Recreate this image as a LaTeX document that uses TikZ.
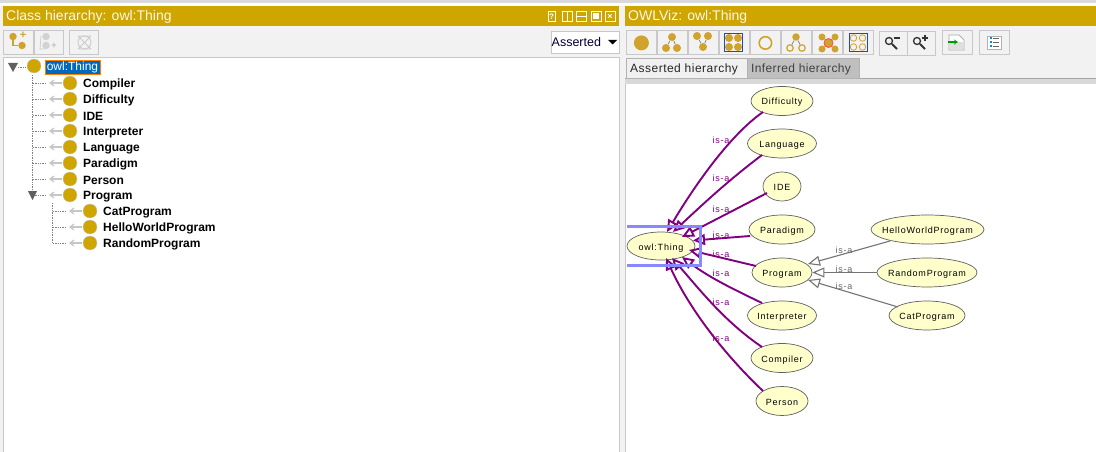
\documentclass[tikz,border=0pt]{standalone}
\usepackage{fontspec}
\setmainfont{Liberation Sans}
\newfontfamily\spaced[LetterSpace=8.5]{Liberation Sans}
\newfontfamily\tabone[LetterSpace=4]{Liberation Sans}
\newfontfamily\tabtwo[LetterSpace=3]{Liberation Sans}
\usetikzlibrary{arrows.meta,calc,shapes.geometric}
\definecolor{gold}{HTML}{CFA500}
\definecolor{ico}{HTML}{D0A32C}
\definecolor{panel}{HTML}{F2F2F2}
\definecolor{edge}{HTML}{C8C8C8}
\definecolor{purp}{HTML}{800080}
\definecolor{yel}{HTML}{FFFFCC}
\definecolor{brack}{HTML}{8888FF}
\definecolor{selblue}{HTML}{1F45D8}
\newcommand{\ov}[1]{\makebox[0pt]{#1}}
\tikzset{
 x=1pt,y=-1pt,
 titletext/.style={anchor=west,inner sep=0pt,text=white!92!gold,font=\fontsize{14}{16}\selectfont},
 treelabel/.style={anchor=west,inner sep=0pt,font=\fontsize{12}{14}\selectfont\bfseries},
 cls/.style={circle,fill=gold,draw=gray!45,line width=.4pt,minimum size=14pt,inner sep=0pt},
 dots/.style={densely dotted,gray,line width=.7pt},
 subarrow/.style={-{Straight Barb[length=4pt,width=6pt]},gray!45,line width=1.2pt},
 twist/.style={fill=gray!75!black,draw=none},
 btn/.style={draw=edge,fill=panel,line width=.8pt,minimum height=24pt,inner sep=0pt,anchor=north west},
 oval/.style={ellipse,draw=gray!75!black,fill=yel,line width=.7pt,font=\fontsize{9}{10}\spaced,inner sep=0pt,text height=8pt,text depth=0pt},
 isa/.style={purp,line width=1.9pt,-{Triangle[open,length=12pt,width=11pt,fill=white]}},
 sub/.style={gray!90!black,line width=1.1pt,-{Triangle[open,length=12pt,width=10pt,fill=white]}},
 isalab/.style={font=\fontsize{9}{10}\spaced,text=purp,inner sep=0pt},
 sublab/.style={font=\fontsize{9}{10}\spaced,text=gray!80!black,inner sep=0pt},
 dot/.style={circle,fill=ico,inner sep=0pt},
 ring/.style={circle,draw=ico,line width=1.2pt,inner sep=0pt},
 sel/.style={draw=selblue,line width=.9pt},
 tabbox/.style={anchor=north west,minimum height=20pt,inner sep=0pt},
 tabtext/.style={anchor=west,inner sep=0pt,text height=9pt,text depth=0pt},
}
\begin{document}
\begin{tikzpicture}
\useasboundingbox (0,0) rectangle (1096,452);
\fill[panel] (0,0) rectangle (1096,452);
\fill[gray!30] (0,0) rectangle (1096,3);
\fill[white] (0,3) rectangle (1096,6);
% left panel
\fill[gold] (3,6) rectangle (619,26);
\node[titletext] (lt) at (6,17) {Class hierarchy: owl:Thing};
\fill[white] (3,57) rectangle (619,452);
\draw[edge,line width=.7pt] (3,57) rectangle (619,453);
% window buttons
\node[draw=white,line width=.9pt,minimum width=7pt,minimum height=10pt,inner sep=0pt,text=white,font=\fontsize{8}{8}\selectfont\bfseries] (wina) at (551.5,16.5) {?};
\foreach \n/\x/\s in {b/567.5/,c/581.5/,d/596/,e/610/×}{
  \node[draw=white,line width=.9pt,minimum size=10pt,inner sep=0pt,text=white,font=\fontsize{9}{9}\selectfont\bfseries] (win\n) at (\x,16.5) {\s};
}
\draw[white,line width=1.6pt] (winb.north) -- (winb.south);
\draw[white,line width=1.6pt] (winc.west) -- (winc.east);
\fill[white] (593,13.5) rectangle (599,19.5);
% left toolbar
\node[btn,minimum width=30pt] (l1) at (3,30.5) {};
\node[btn,minimum width=29pt] (l2) at (34,30.5) {};
\node[btn,minimum width=29pt] (l3) at (69,30.5) {};
\node[dot,minimum size=7.5pt] (l1a) at (13,36.5) {};
\node[dot,minimum size=7.5pt] (l1b) at (22,45.5) {};
\draw[ico,line width=1.2pt] (l1a) |- (l1b);
\node[text=ico,font=\fontsize{11}{11}\selectfont\bfseries,inner sep=0pt] (l1p) at (23,35) {+};
\node[dot,fill=gray!35,minimum size=7.5pt] (l2a) at (46,36.5) {};
\node[dot,fill=gray!35,minimum size=7.5pt] (l2b) at (46,45.5) {};
\node[text=gray!50,font=\fontsize{9}{9}\selectfont\bfseries,inner sep=0pt] (l2p) at (54,46) {+};
\draw[gray!40,line width=.7pt] (41,36) -- (40,49) -- (44,49);
\node[circle,draw=gray!40,line width=.9pt,minimum size=13pt,inner sep=0pt] (l3a) at (84.5,42.5) {};
\draw[gray!40,line width=.9pt] (78,36) -- (91,49) (91,36) -- (78,49) (78,36) -- (91,36) (78,49) -- (91,49);
\node[draw=edge,fill=white,line width=.5pt,minimum width=68pt,minimum height=22pt,inner sep=0pt,anchor=north west] (combo) at (550.5,31) {};
\node[anchor=west,inner sep=0pt,font=\fontsize{12.5}{14}\selectfont,text=black!80!blue] (combot) at (551.5,42.5) {Asserted};
\fill[black] (608,40) -- (617,40) -- (612.5,44.5) -- cycle;
% tree
\fill[twist] (8,63) -- (18,63) -- (13,72) -- cycle;
\draw[dots] (18,67) -- (26,67);
\node[cls] (root) at (34,66) {};
\node[draw=orange,fill=blue!45!cyan!75!black,text=white,inner sep=0pt,minimum width=55pt,minimum height=14pt,font=\fontsize{12}{14}\selectfont] (rootlab) at (72.5,67) {owl:Thing};
\draw[dots] (32.5,75) -- (32.5,192);
\foreach \n/\y/\t in {a/83/Compiler,b/99/Difficulty,c/115/IDE,d/131/Interpreter,e/147/Language,f/163/Paradigm,g/179/Person,h/195/Program}{
  \draw[dots] (33,\y) -- (45,\y);
  \node[cls] (t\n) at (70,\y) {};
  \draw[subarrow] (62,\y) -- (49,\y);
  \node[treelabel] (l\n) at (83,\y+1.5) {\t};
}
\fill[twist] (28,191) -- (37,191) -- (32.5,200) -- cycle;
\draw[dots] (52.5,203) -- (52.5,243.5);
\foreach \n/\y/\t in {i/211/CatProgram,j/227/HelloWorldProgram,k/243/RandomProgram}{
  \draw[dots] (53,\y) -- (65,\y);
  \node[cls] (t\n) at (90,\y) {};
  \draw[subarrow] (82,\y) -- (69,\y);
  \node[treelabel] (l\n) at (103,\y+1.5) {\t};
}
% right panel
\fill[gold] (625,6) rectangle (1096,26);
\node[titletext] (rt) at (628,17) {OWLViz: owl:Thing};
\foreach \n/\x in {1/626,2/657,3/688,4/719,5/750,6/781,7/812,8/843}{
  \node[btn,minimum width=30pt] (b\n) at (\x,30.5) {};
}
\node[btn,minimum width=28pt] (z1) at (879,31.5) {};
\node[btn,minimum width=28pt] (z2) at (907,31.5) {};
\node[btn,minimum width=30pt] (ex) at (941.5,30.5) {};
\node[btn,minimum width=30pt] (ls) at (978.5,30.5) {};
% icon 1
\node[dot,minimum size=15pt] (i1) at (b1.center) {};
% icon 2
\node[dot,minimum size=8pt] (i2a) at (672,37) {};
\node[dot,minimum size=8pt] (i2b) at (666,48) {};
\node[dot,minimum size=8pt] (i2c) at (677,48) {};
\draw[gray,line width=.7pt] (i2a) -- (i2b) (i2a) -- (i2c);
% icon 3
\node[dot,minimum size=8pt] (i3a) at (697,36) {};
\node[dot,minimum size=8pt] (i3b) at (708,36) {};
\node[dot,minimum size=8pt] (i3c) at (703,47) {};
\draw[gray,line width=.7pt] (i3a) -- (i3c) (i3b) -- (i3c);
% icon 4
\node[sel,minimum width=18pt,minimum height=18pt,inner sep=0pt] (i4) at (733.5,42.5) {};
\foreach \n/\x/\y in {a/729/38,b/738/38,c/729/47,d/738/47}{\node[dot,minimum size=8pt] (i4\n) at (\x,\y) {};}
% icon 5
\node[ring,line width=1.6pt,minimum size=12.5pt] (i5) at (b5.center) {};
% icon 6
\node[dot,minimum size=7.5pt] (i6a) at (796,37) {};
\node[ring,minimum size=6.5pt] (i6b) at (790,48) {};
\node[ring,minimum size=6.5pt] (i6c) at (802,48) {};
\draw[gray,line width=.7pt] (i6a) -- (i6b) (i6a) -- (i6c);
% icon 7
\foreach \n/\x/\y in {a/822/37,b/835/37,c/822/49,d/835/49}{\node[dot,minimum size=7pt] (i7\n) at (\x,\y) {};}
\draw[ico,line width=1.5pt] (i7a) -- (i7d) (i7b) -- (i7c);
\node[circle,draw=red!70!white,fill=ico,line width=.8pt,minimum size=9pt,inner sep=0pt] (i7e) at (828.5,43) {};
% icon 8
\node[sel,minimum width=18pt,minimum height=18pt,inner sep=0pt] (i8) at (858,42.5) {};
\foreach \n/\x/\y in {a/853.5/38,b/862.5/38,c/853.5/47,d/862.5/47}{\node[ring,line width=.8pt,minimum size=6.5pt] (i8\n) at (\x,\y) {};}
% zoom icons
\node[circle,draw=black!80,line width=1.3pt,minimum size=7pt,inner sep=0pt] (zm1) at (889,41) {};
\draw[black!80,line width=1.8pt] (zm1.south east) -- (897,49);
\draw[black!80,line width=1.2pt] (894,38) -- (900,38);
\node[circle,draw=black!80,line width=1.3pt,minimum size=7pt,inner sep=0pt] (zm2) at (917,41) {};
\draw[black!80,line width=1.8pt] (zm2.south east) -- (925,49);
\draw[black!80,line width=1.2pt] (922,38) -- (928,38) (925,35) -- (925,41);
% export
\draw[gray!70,fill=white,line width=.7pt] (949,35) -- (959,35) -- (964,40) -- (964,50) -- (949,50) -- cycle;
\fill[gray!25] (950,42) rectangle (963,49.5);
\draw[green!60!black,line width=1.2pt,-{Stealth[length=4pt,width=5pt]}] (948,42) -- (958,42);
% list
\node[draw=gray!60,fill=white,line width=.6pt,minimum width=14pt,minimum height=13pt,inner sep=0pt] (lsb) at (ls.center) {};
\foreach \y in {38.5,42.5,46.5}{
  \fill[cyan!70!blue] (989.5,\y-1) rectangle (991.5,\y+1);
  \draw[gray!80!black,line width=.8pt] (993,\y) -- (999,\y);
}
% tabs
\fill[gray!30] (625,78) rectangle (1096,84);
\draw[gray!70,line width=.6pt] (625,78.5) -- (1096,78.5);
\node[tabbox,draw=gray!60,fill=gray!12,minimum width=121pt] (tab1) at (625.5,58.5) {};
\node[tabbox,draw=gray!60,fill=gray!50,minimum width=112pt] (tab2) at (746.5,58.5) {};
\node[tabtext,font=\fontsize{12}{14}\tabone,text=black!85] (tab1t) at (630,68.5) {Asserted hierarchy};
\node[tabtext,font=\fontsize{12}{14}\tabtwo,text=black!75] (tab2t) at (751,68.5) {Inferred hierarchy};
\fill[white] (626,84) rectangle (1096,452);
\draw[edge,line width=.7pt] (625.5,84) -- (625.5,453);
% graph
\node[oval,minimum width=68pt,minimum height=28pt] (thing) at (661,246) {\ov{owl:Thing}};
\node[oval,minimum width=62pt,minimum height=29pt] (dif) at (782,101) {\ov{Difficulty}};
\node[oval,minimum width=69pt,minimum height=29pt] (lan) at (782,143.5) {\ov{Language}};
\node[oval,minimum width=38pt,minimum height=29pt] (ide) at (782,186.5) {\ov{IDE}};
\node[oval,minimum width=66pt,minimum height=29pt] (par) at (782,229.5) {\ov{Paradigm}};
\node[oval,minimum width=60pt,minimum height=29pt] (pro) at (782,272.5) {\ov{Program}};
\node[oval,minimum width=69pt,minimum height=29pt] (int) at (782,315.5) {\ov{Interpreter}};
\node[oval,minimum width=62pt,minimum height=29pt] (com) at (782,358) {\ov{Compiler}};
\node[oval,minimum width=52pt,minimum height=29pt] (per) at (782,401) {\ov{Person}};
\node[oval,minimum width=113pt,minimum height=29pt] (hel) at (927.5,229.5) {\ov{HelloWorldProgram}};
\node[oval,minimum width=100pt,minimum height=29pt] (ran) at (927,272.5) {\ov{RandomProgram}};
\node[oval,minimum width=76pt,minimum height=29pt] (cat) at (927,315.5) {\ov{CatProgram}};
\coordinate (t1) at (667,232);
\coordinate (t2) at (673,232);
\coordinate (t3) at (682,237);
\coordinate (t4) at (693,240.5);
\coordinate (t5) at (689,250);
\coordinate (t6) at (682,257);
\coordinate (t7) at (672,258);
\coordinate (t8) at (666,258);
\draw[isa] ([shift={(-19,11)}]dif.center) .. controls (730,135) and (695,185) .. (t1);
\draw[isa] ([shift={(-20,11.5)}]lan.center) .. controls (725,183) and (700,207) .. (t2);
\draw[isa] ([shift={(-15,6.5)}]ide.center) -- (t3);
\draw[isa] ([shift={(-32,6.5)}]par.center) -- (t4);
\draw[isa] ([shift={(-26,-6.5)}]pro.center) -- (t5);
\draw[isa] ([shift={(-20,-12.5)}]int.center) .. controls (735,290) and (710,278) .. (t6);
\draw[isa] ([shift={(-20,-11)}]com.center) .. controls (725,322) and (700,290) .. (t7);
\draw[isa] ([shift={(-19,-10)}]per.center) .. controls (725,355) and (690,310) .. (t8);
\draw[sub] ([shift={(-37.5,11.5)}]hel.center) -- ([shift={(26,-8.5)}]pro.center);
\draw[sub] (ran.west) -- (pro.east);
\draw[sub] ([shift={(-29,-8.5)}]cat.center) -- ([shift={(26,7.5)}]pro.center);
\draw[brack,line width=3pt] (627,226.5) -- (700,226.5) -- (700,265) -- (627,265);
\foreach \n/\y in {a/140,b/178,c/209,d/235,e/254,f/273,g/302,h/338}{\node[isalab] (isa\n) at (721,\y) {is-a};}
\foreach \n/\y in {a/250,b/269,c/286}{\node[sublab] (sl\n) at (844,\y) {is-a};}
\end{tikzpicture}
\end{document}
